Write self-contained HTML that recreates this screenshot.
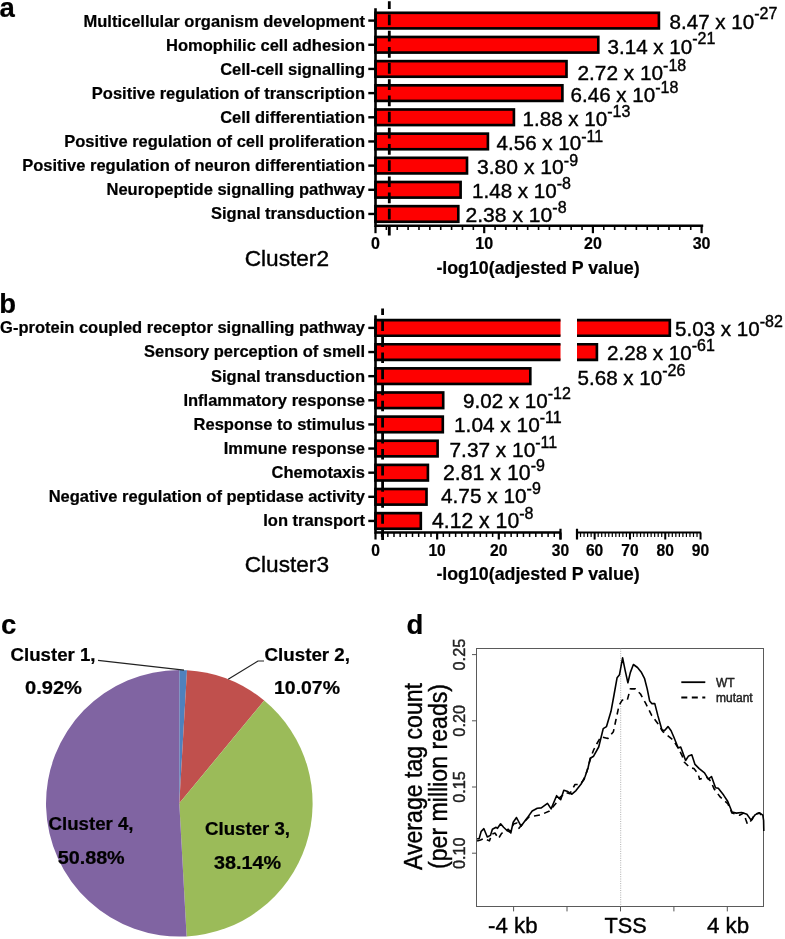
<!DOCTYPE html>
<html><head><meta charset="utf-8"><title>Figure</title>
<style>html,body{margin:0;padding:0;background:#fff}svg{display:block;filter:blur(0.7px)}text{stroke:#000;stroke-width:0.4px;paint-order:stroke}text[font-weight=bold]{stroke-width:0.22px}</style></head>
<body>
<svg width="785" height="939" viewBox="0 0 785 939" font-family='"Liberation Sans", sans-serif' fill="#000">
<rect width="785" height="939" fill="#fff"/>
<text x="-0.5" y="16.5" font-size="27.5" font-weight="bold" text-anchor="start" >a</text>
<rect x="375.5" y="12.80" width="283.4" height="15.6" fill="#fe0000" stroke="#000" stroke-width="2.65"/>
<line x1="368.3" x2="375.5" y1="20.60" y2="20.60" stroke="#000" stroke-width="2.4"/>
<text x="365" y="26.70" font-size="16.5" font-weight="bold" text-anchor="end" >Multicellular organism development</text>
<rect x="375.5" y="36.97" width="222.8" height="15.6" fill="#fe0000" stroke="#000" stroke-width="2.65"/>
<line x1="368.3" x2="375.5" y1="44.77" y2="44.77" stroke="#000" stroke-width="2.4"/>
<text x="365" y="50.75" font-size="16.5" font-weight="bold" text-anchor="end" >Homophilic cell adhesion</text>
<rect x="375.5" y="61.14" width="191.0" height="15.6" fill="#fe0000" stroke="#000" stroke-width="2.65"/>
<line x1="368.3" x2="375.5" y1="68.94" y2="68.94" stroke="#000" stroke-width="2.4"/>
<text x="365" y="74.80" font-size="16.5" font-weight="bold" text-anchor="end" >Cell-cell signalling</text>
<rect x="375.5" y="85.31" width="186.9" height="15.6" fill="#fe0000" stroke="#000" stroke-width="2.65"/>
<line x1="368.3" x2="375.5" y1="93.11" y2="93.11" stroke="#000" stroke-width="2.4"/>
<text x="365" y="98.85" font-size="16.5" font-weight="bold" text-anchor="end" >Positive regulation of transcription</text>
<rect x="375.5" y="109.48" width="138.4" height="15.6" fill="#fe0000" stroke="#000" stroke-width="2.65"/>
<line x1="368.3" x2="375.5" y1="117.28" y2="117.28" stroke="#000" stroke-width="2.4"/>
<text x="365" y="122.90" font-size="16.5" font-weight="bold" text-anchor="end" >Cell differentiation</text>
<rect x="375.5" y="133.65" width="112.4" height="15.6" fill="#fe0000" stroke="#000" stroke-width="2.65"/>
<line x1="368.3" x2="375.5" y1="141.45" y2="141.45" stroke="#000" stroke-width="2.4"/>
<text x="365" y="146.95" font-size="16.5" font-weight="bold" text-anchor="end" >Positive regulation of cell proliferation</text>
<rect x="375.5" y="157.82" width="91.5" height="15.6" fill="#fe0000" stroke="#000" stroke-width="2.65"/>
<line x1="368.3" x2="375.5" y1="165.62" y2="165.62" stroke="#000" stroke-width="2.4"/>
<text x="365" y="171.00" font-size="16.5" font-weight="bold" text-anchor="end" >Positive regulation of neuron differentiation</text>
<rect x="375.5" y="181.99" width="85.1" height="15.6" fill="#fe0000" stroke="#000" stroke-width="2.65"/>
<line x1="368.3" x2="375.5" y1="189.79" y2="189.79" stroke="#000" stroke-width="2.4"/>
<text x="365" y="195.05" font-size="16.5" font-weight="bold" text-anchor="end" >Neuropeptide signalling pathway</text>
<rect x="375.5" y="206.16" width="82.8" height="15.6" fill="#fe0000" stroke="#000" stroke-width="2.65"/>
<line x1="368.3" x2="375.5" y1="213.96" y2="213.96" stroke="#000" stroke-width="2.4"/>
<text x="365" y="219.10" font-size="16.5" font-weight="bold" text-anchor="end" >Signal transduction</text>
<text x="669.5" y="29" font-size="20.6">8.47 x 10<tspan dy="-9.6" font-size="16">-27</tspan></text>
<text x="607.5" y="53.5" font-size="20.6">3.14 x 10<tspan dy="-9.2" font-size="16">-21</tspan></text>
<text x="577.5" y="79.5" font-size="20.8">2.72 x 10<tspan dy="-9" font-size="16">-18</tspan></text>
<text x="570.5" y="102" font-size="20.6">6.46 x 10<tspan dy="-9" font-size="16">-18</tspan></text>
<text x="522.5" y="126" font-size="20.6">1.88 x 10<tspan dy="-9" font-size="16">-13</tspan></text>
<text x="496.5" y="149.5" font-size="20.6">4.56 x 10<tspan dy="-8" font-size="16">-11</tspan></text>
<text x="477" y="174" font-size="21.1">3.80 x 10<tspan dy="-8.4" font-size="16">-9</tspan></text>
<text x="472" y="197.5" font-size="20.6">1.48 x 10<tspan dy="-9" font-size="16">-8</tspan></text>
<text x="465.5" y="221.5" font-size="21.1">2.38 x 10<tspan dy="-8.8" font-size="16">-8</tspan></text>
<path d="M375.5 8.2 V225.7 H703.2" fill="none" stroke="#000" stroke-width="2.6"/>
<line x1="375.50" x2="375.50" y1="225.7" y2="233.2" stroke="#000" stroke-width="2.2"/>
<line x1="386.37" x2="386.37" y1="225.7" y2="230" stroke="#000" stroke-width="1.6"/>
<line x1="397.24" x2="397.24" y1="225.7" y2="230" stroke="#000" stroke-width="1.6"/>
<line x1="408.11" x2="408.11" y1="225.7" y2="230" stroke="#000" stroke-width="1.6"/>
<line x1="418.98" x2="418.98" y1="225.7" y2="230" stroke="#000" stroke-width="1.6"/>
<line x1="429.85" x2="429.85" y1="225.7" y2="230" stroke="#000" stroke-width="1.6"/>
<line x1="440.72" x2="440.72" y1="225.7" y2="230" stroke="#000" stroke-width="1.6"/>
<line x1="451.59" x2="451.59" y1="225.7" y2="230" stroke="#000" stroke-width="1.6"/>
<line x1="462.46" x2="462.46" y1="225.7" y2="230" stroke="#000" stroke-width="1.6"/>
<line x1="473.33" x2="473.33" y1="225.7" y2="230" stroke="#000" stroke-width="1.6"/>
<line x1="484.20" x2="484.20" y1="225.7" y2="233.2" stroke="#000" stroke-width="2.2"/>
<line x1="495.07" x2="495.07" y1="225.7" y2="230" stroke="#000" stroke-width="1.6"/>
<line x1="505.94" x2="505.94" y1="225.7" y2="230" stroke="#000" stroke-width="1.6"/>
<line x1="516.81" x2="516.81" y1="225.7" y2="230" stroke="#000" stroke-width="1.6"/>
<line x1="527.68" x2="527.68" y1="225.7" y2="230" stroke="#000" stroke-width="1.6"/>
<line x1="538.55" x2="538.55" y1="225.7" y2="230" stroke="#000" stroke-width="1.6"/>
<line x1="549.42" x2="549.42" y1="225.7" y2="230" stroke="#000" stroke-width="1.6"/>
<line x1="560.29" x2="560.29" y1="225.7" y2="230" stroke="#000" stroke-width="1.6"/>
<line x1="571.16" x2="571.16" y1="225.7" y2="230" stroke="#000" stroke-width="1.6"/>
<line x1="582.03" x2="582.03" y1="225.7" y2="230" stroke="#000" stroke-width="1.6"/>
<line x1="592.90" x2="592.90" y1="225.7" y2="233.2" stroke="#000" stroke-width="2.2"/>
<line x1="603.77" x2="603.77" y1="225.7" y2="230" stroke="#000" stroke-width="1.6"/>
<line x1="614.64" x2="614.64" y1="225.7" y2="230" stroke="#000" stroke-width="1.6"/>
<line x1="625.51" x2="625.51" y1="225.7" y2="230" stroke="#000" stroke-width="1.6"/>
<line x1="636.38" x2="636.38" y1="225.7" y2="230" stroke="#000" stroke-width="1.6"/>
<line x1="647.25" x2="647.25" y1="225.7" y2="230" stroke="#000" stroke-width="1.6"/>
<line x1="658.12" x2="658.12" y1="225.7" y2="230" stroke="#000" stroke-width="1.6"/>
<line x1="668.99" x2="668.99" y1="225.7" y2="230" stroke="#000" stroke-width="1.6"/>
<line x1="679.86" x2="679.86" y1="225.7" y2="230" stroke="#000" stroke-width="1.6"/>
<line x1="690.73" x2="690.73" y1="225.7" y2="230" stroke="#000" stroke-width="1.6"/>
<line x1="701.60" x2="701.60" y1="225.7" y2="233.2" stroke="#000" stroke-width="2.2"/>
<text x="375.5" y="248.8" font-size="16" font-weight="bold" text-anchor="middle" >0</text>
<text x="484.2" y="248.8" font-size="16" font-weight="bold" text-anchor="middle" >10</text>
<text x="592.9" y="248.8" font-size="16" font-weight="bold" text-anchor="middle" >20</text>
<text x="701.6" y="248.8" font-size="16" font-weight="bold" text-anchor="middle" >30</text>
<line x1="389.3" x2="389.3" y1="1.3" y2="236.2" stroke="#000" stroke-width="2.8" stroke-dasharray="10.7 5.48" stroke-dashoffset="2.9"/>
<text x="538" y="274" font-size="17.8" font-weight="bold" text-anchor="middle" >-log10(adjested P value)</text>
<text x="244.7" y="266.4" font-size="22.5" font-weight="normal" text-anchor="start" textLength="84.3" lengthAdjust="spacingAndGlyphs" >Cluster2</text>
<text x="-0.8" y="312.8" font-size="27.5" font-weight="bold" text-anchor="start" >b</text>
<rect x="375.5" y="320.10" width="185.0" height="15.6" fill="#fe0000"/>
<path d="M560.5 320.10 H375.5 V335.70 H560.5" fill="none" stroke="#000" stroke-width="2.65"/>
<rect x="577" y="320.10" width="92.8" height="15.6" fill="#fe0000"/>
<path d="M577 320.10 H669.8 V335.70 H577" fill="none" stroke="#000" stroke-width="2.65"/>
<line x1="368.3" x2="375.5" y1="327.90" y2="327.90" stroke="#000" stroke-width="2.4"/>
<text x="365" y="333.40" font-size="16.5" font-weight="bold" text-anchor="end" >G-protein coupled receptor signalling pathway</text>
<rect x="375.5" y="344.23" width="185.0" height="15.6" fill="#fe0000"/>
<path d="M560.5 344.23 H375.5 V359.83 H560.5" fill="none" stroke="#000" stroke-width="2.65"/>
<rect x="577" y="344.23" width="19.9" height="15.6" fill="#fe0000"/>
<path d="M577 344.23 H596.9 V359.83 H577" fill="none" stroke="#000" stroke-width="2.65"/>
<line x1="368.3" x2="375.5" y1="352.03" y2="352.03" stroke="#000" stroke-width="2.4"/>
<text x="365" y="357.45" font-size="16.5" font-weight="bold" text-anchor="end" >Sensory perception of smell</text>
<rect x="375.5" y="368.36" width="154.8" height="15.6" fill="#fe0000" stroke="#000" stroke-width="2.65"/>
<line x1="368.3" x2="375.5" y1="376.16" y2="376.16" stroke="#000" stroke-width="2.4"/>
<text x="365" y="381.50" font-size="16.5" font-weight="bold" text-anchor="end" >Signal transduction</text>
<rect x="375.5" y="392.49" width="67.7" height="15.6" fill="#fe0000" stroke="#000" stroke-width="2.65"/>
<line x1="368.3" x2="375.5" y1="400.29" y2="400.29" stroke="#000" stroke-width="2.4"/>
<text x="365" y="405.55" font-size="16.5" font-weight="bold" text-anchor="end" >Inflammatory response</text>
<rect x="375.5" y="416.62" width="67.3" height="15.6" fill="#fe0000" stroke="#000" stroke-width="2.65"/>
<line x1="368.3" x2="375.5" y1="424.42" y2="424.42" stroke="#000" stroke-width="2.4"/>
<text x="365" y="429.60" font-size="16.5" font-weight="bold" text-anchor="end" >Response to stimulus</text>
<rect x="375.5" y="440.75" width="62.1" height="15.6" fill="#fe0000" stroke="#000" stroke-width="2.65"/>
<line x1="368.3" x2="375.5" y1="448.55" y2="448.55" stroke="#000" stroke-width="2.4"/>
<text x="365" y="453.65" font-size="16.5" font-weight="bold" text-anchor="end" >Immune response</text>
<rect x="375.5" y="464.88" width="52.4" height="15.6" fill="#fe0000" stroke="#000" stroke-width="2.65"/>
<line x1="368.3" x2="375.5" y1="472.68" y2="472.68" stroke="#000" stroke-width="2.4"/>
<text x="365" y="477.70" font-size="16.5" font-weight="bold" text-anchor="end" >Chemotaxis</text>
<rect x="375.5" y="489.01" width="51.0" height="15.6" fill="#fe0000" stroke="#000" stroke-width="2.65"/>
<line x1="368.3" x2="375.5" y1="496.81" y2="496.81" stroke="#000" stroke-width="2.4"/>
<text x="365" y="501.75" font-size="16.5" font-weight="bold" text-anchor="end" >Negative regulation of peptidase activity</text>
<rect x="375.5" y="513.14" width="45.3" height="15.6" fill="#fe0000" stroke="#000" stroke-width="2.65"/>
<line x1="368.3" x2="375.5" y1="520.94" y2="520.94" stroke="#000" stroke-width="2.4"/>
<text x="365" y="525.80" font-size="16.5" font-weight="bold" text-anchor="end" >Ion transport</text>
<text x="675" y="335.5" font-size="20.6">5.03 x 10<tspan dy="-8.8" font-size="16">-82</tspan></text>
<text x="607" y="359.5" font-size="20.6">2.28 x 10<tspan dy="-8.8" font-size="16">-61</tspan></text>
<text x="577.5" y="384.7" font-size="20.6">5.68 x 10<tspan dy="-8.8" font-size="16">-26</tspan></text>
<text x="463" y="408" font-size="20.6">9.02 x 10<tspan dy="-8.8" font-size="16">-12</tspan></text>
<text x="454" y="432" font-size="20.85">1.04 x 10<tspan dy="-8.8" font-size="16">-11</tspan></text>
<text x="449.5" y="456.5" font-size="20.85">7.37 x 10<tspan dy="-8.8" font-size="16">-11</tspan></text>
<text x="443" y="480" font-size="21.3">2.81 x 10<tspan dy="-8.8" font-size="16">-9</tspan></text>
<text x="441" y="503" font-size="20.8">4.75 x 10<tspan dy="-8.8" font-size="16">-9</tspan></text>
<text x="432" y="527.5" font-size="21.2">4.12 x 10<tspan dy="-8.8" font-size="16">-8</tspan></text>
<path d="M375.5 315.3 V532.5 H560.5" fill="none" stroke="#000" stroke-width="2.6"/>
<path d="M560.5 528.7 V539.5 M577 528.7 V539.5 M577 532.5 H701" fill="none" stroke="#000" stroke-width="2.2"/>
<line x1="375.50" x2="375.50" y1="532.5" y2="539.5" stroke="#000" stroke-width="2.2"/>
<line x1="381.67" x2="381.67" y1="532.5" y2="537" stroke="#000" stroke-width="1.5"/>
<line x1="387.83" x2="387.83" y1="532.5" y2="537" stroke="#000" stroke-width="1.5"/>
<line x1="394.00" x2="394.00" y1="532.5" y2="537" stroke="#000" stroke-width="1.5"/>
<line x1="400.16" x2="400.16" y1="532.5" y2="537" stroke="#000" stroke-width="1.5"/>
<line x1="406.32" x2="406.32" y1="532.5" y2="537" stroke="#000" stroke-width="1.5"/>
<line x1="412.49" x2="412.49" y1="532.5" y2="537" stroke="#000" stroke-width="1.5"/>
<line x1="418.65" x2="418.65" y1="532.5" y2="537" stroke="#000" stroke-width="1.5"/>
<line x1="424.82" x2="424.82" y1="532.5" y2="537" stroke="#000" stroke-width="1.5"/>
<line x1="430.99" x2="430.99" y1="532.5" y2="537" stroke="#000" stroke-width="1.5"/>
<line x1="437.15" x2="437.15" y1="532.5" y2="539.5" stroke="#000" stroke-width="2.2"/>
<line x1="443.31" x2="443.31" y1="532.5" y2="537" stroke="#000" stroke-width="1.5"/>
<line x1="449.48" x2="449.48" y1="532.5" y2="537" stroke="#000" stroke-width="1.5"/>
<line x1="455.64" x2="455.64" y1="532.5" y2="537" stroke="#000" stroke-width="1.5"/>
<line x1="461.81" x2="461.81" y1="532.5" y2="537" stroke="#000" stroke-width="1.5"/>
<line x1="467.98" x2="467.98" y1="532.5" y2="537" stroke="#000" stroke-width="1.5"/>
<line x1="474.14" x2="474.14" y1="532.5" y2="537" stroke="#000" stroke-width="1.5"/>
<line x1="480.31" x2="480.31" y1="532.5" y2="537" stroke="#000" stroke-width="1.5"/>
<line x1="486.47" x2="486.47" y1="532.5" y2="537" stroke="#000" stroke-width="1.5"/>
<line x1="492.63" x2="492.63" y1="532.5" y2="537" stroke="#000" stroke-width="1.5"/>
<line x1="498.80" x2="498.80" y1="532.5" y2="539.5" stroke="#000" stroke-width="2.2"/>
<line x1="504.97" x2="504.97" y1="532.5" y2="537" stroke="#000" stroke-width="1.5"/>
<line x1="511.13" x2="511.13" y1="532.5" y2="537" stroke="#000" stroke-width="1.5"/>
<line x1="517.29" x2="517.29" y1="532.5" y2="537" stroke="#000" stroke-width="1.5"/>
<line x1="523.46" x2="523.46" y1="532.5" y2="537" stroke="#000" stroke-width="1.5"/>
<line x1="529.62" x2="529.62" y1="532.5" y2="537" stroke="#000" stroke-width="1.5"/>
<line x1="535.79" x2="535.79" y1="532.5" y2="537" stroke="#000" stroke-width="1.5"/>
<line x1="541.96" x2="541.96" y1="532.5" y2="537" stroke="#000" stroke-width="1.5"/>
<line x1="548.12" x2="548.12" y1="532.5" y2="537" stroke="#000" stroke-width="1.5"/>
<line x1="554.28" x2="554.28" y1="532.5" y2="537" stroke="#000" stroke-width="1.5"/>
<line x1="560.45" x2="560.45" y1="532.5" y2="539.5" stroke="#000" stroke-width="2.2"/>
<line x1="577.00" x2="577.00" y1="532.5" y2="537" stroke="#000" stroke-width="1.2"/>
<line x1="580.53" x2="580.53" y1="532.5" y2="537" stroke="#000" stroke-width="1.2"/>
<line x1="584.06" x2="584.06" y1="532.5" y2="537" stroke="#000" stroke-width="1.2"/>
<line x1="587.59" x2="587.59" y1="532.5" y2="537" stroke="#000" stroke-width="1.2"/>
<line x1="591.12" x2="591.12" y1="532.5" y2="537" stroke="#000" stroke-width="1.2"/>
<line x1="594.65" x2="594.65" y1="532.5" y2="539.5" stroke="#000" stroke-width="2.0"/>
<line x1="598.18" x2="598.18" y1="532.5" y2="537" stroke="#000" stroke-width="1.2"/>
<line x1="601.71" x2="601.71" y1="532.5" y2="537" stroke="#000" stroke-width="1.2"/>
<line x1="605.24" x2="605.24" y1="532.5" y2="537" stroke="#000" stroke-width="1.2"/>
<line x1="608.77" x2="608.77" y1="532.5" y2="537" stroke="#000" stroke-width="1.2"/>
<line x1="612.30" x2="612.30" y1="532.5" y2="537" stroke="#000" stroke-width="1.2"/>
<line x1="615.83" x2="615.83" y1="532.5" y2="537" stroke="#000" stroke-width="1.2"/>
<line x1="619.36" x2="619.36" y1="532.5" y2="537" stroke="#000" stroke-width="1.2"/>
<line x1="622.89" x2="622.89" y1="532.5" y2="537" stroke="#000" stroke-width="1.2"/>
<line x1="626.42" x2="626.42" y1="532.5" y2="537" stroke="#000" stroke-width="1.2"/>
<line x1="629.95" x2="629.95" y1="532.5" y2="539.5" stroke="#000" stroke-width="2.0"/>
<line x1="633.48" x2="633.48" y1="532.5" y2="537" stroke="#000" stroke-width="1.2"/>
<line x1="637.01" x2="637.01" y1="532.5" y2="537" stroke="#000" stroke-width="1.2"/>
<line x1="640.54" x2="640.54" y1="532.5" y2="537" stroke="#000" stroke-width="1.2"/>
<line x1="644.07" x2="644.07" y1="532.5" y2="537" stroke="#000" stroke-width="1.2"/>
<line x1="647.60" x2="647.60" y1="532.5" y2="537" stroke="#000" stroke-width="1.2"/>
<line x1="651.13" x2="651.13" y1="532.5" y2="537" stroke="#000" stroke-width="1.2"/>
<line x1="654.66" x2="654.66" y1="532.5" y2="537" stroke="#000" stroke-width="1.2"/>
<line x1="658.19" x2="658.19" y1="532.5" y2="537" stroke="#000" stroke-width="1.2"/>
<line x1="661.72" x2="661.72" y1="532.5" y2="537" stroke="#000" stroke-width="1.2"/>
<line x1="665.25" x2="665.25" y1="532.5" y2="539.5" stroke="#000" stroke-width="2.0"/>
<line x1="668.78" x2="668.78" y1="532.5" y2="537" stroke="#000" stroke-width="1.2"/>
<line x1="672.31" x2="672.31" y1="532.5" y2="537" stroke="#000" stroke-width="1.2"/>
<line x1="675.84" x2="675.84" y1="532.5" y2="537" stroke="#000" stroke-width="1.2"/>
<line x1="679.37" x2="679.37" y1="532.5" y2="537" stroke="#000" stroke-width="1.2"/>
<line x1="682.90" x2="682.90" y1="532.5" y2="537" stroke="#000" stroke-width="1.2"/>
<line x1="686.43" x2="686.43" y1="532.5" y2="537" stroke="#000" stroke-width="1.2"/>
<line x1="689.96" x2="689.96" y1="532.5" y2="537" stroke="#000" stroke-width="1.2"/>
<line x1="693.49" x2="693.49" y1="532.5" y2="537" stroke="#000" stroke-width="1.2"/>
<line x1="697.02" x2="697.02" y1="532.5" y2="537" stroke="#000" stroke-width="1.2"/>
<line x1="700.55" x2="700.55" y1="532.5" y2="539.5" stroke="#000" stroke-width="2.0"/>
<text x="375.5" y="555.8" font-size="15.6" font-weight="bold" text-anchor="middle" >0</text>
<text x="437.1" y="555.8" font-size="15.6" font-weight="bold" text-anchor="middle" >10</text>
<text x="498.8" y="555.8" font-size="15.6" font-weight="bold" text-anchor="middle" >20</text>
<text x="560.5" y="555.8" font-size="15.6" font-weight="bold" text-anchor="middle" >30</text>
<text x="594.6" y="555.8" font-size="15.6" font-weight="bold" text-anchor="middle" >60</text>
<text x="630.0" y="555.8" font-size="15.6" font-weight="bold" text-anchor="middle" >70</text>
<text x="665.2" y="555.8" font-size="15.6" font-weight="bold" text-anchor="middle" >80</text>
<text x="700.5" y="555.8" font-size="15.6" font-weight="bold" text-anchor="middle" >90</text>
<line x1="382.6" x2="382.6" y1="308.5" y2="542.8" stroke="#000" stroke-width="2.8" stroke-dasharray="10.6 5.47" stroke-dashoffset="4.2"/>
<text x="538" y="580" font-size="17.8" font-weight="bold" text-anchor="middle" >-log10(adjested P value)</text>
<text x="244.7" y="571.6" font-size="22.5" font-weight="normal" text-anchor="start" textLength="84.3" lengthAdjust="spacingAndGlyphs" >Cluster3</text>
<text x="1" y="634" font-size="27.5" font-weight="bold" text-anchor="start" >c</text>
<path d="M179.3 803.3 L179.30 670.00 A133.3 133.3 0 0 1 187.00 670.22 Z" fill="#4f81bd"/>
<path d="M179.3 803.3 L187.00 670.22 A133.3 133.3 0 0 1 264.20 700.53 Z" fill="#c0504d"/>
<path d="M179.3 803.3 L264.20 700.53 A133.3 133.3 0 0 1 186.62 936.40 Z" fill="#9bbb59"/>
<path d="M179.3 803.3 L186.62 936.40 A133.3 133.3 0 1 1 179.30 670.00 Z" fill="#8064a2"/>
<path d="M98 660.3 L184 670.2" stroke="#222" stroke-width="1.2" fill="none"/>
<path d="M264 661 L258 661 L228.2 679.3" stroke="#222" stroke-width="1.2" fill="none"/>
<text x="10.5" y="660.8" font-size="18" font-weight="bold" text-anchor="start" textLength="85" lengthAdjust="spacingAndGlyphs" >Cluster 1,</text>
<text x="25" y="694" font-size="18" font-weight="bold" text-anchor="start" textLength="57" lengthAdjust="spacingAndGlyphs" >0.92%</text>
<text x="264.5" y="660.8" font-size="18" font-weight="bold" text-anchor="start" textLength="85.5" lengthAdjust="spacingAndGlyphs" >Cluster 2,</text>
<text x="274" y="694" font-size="18" font-weight="bold" text-anchor="start" textLength="66" lengthAdjust="spacingAndGlyphs" >10.07%</text>
<text x="48.5" y="829.7" font-size="18" font-weight="bold" text-anchor="start" textLength="85" lengthAdjust="spacingAndGlyphs" >Cluster 4,</text>
<text x="57.7" y="863.6" font-size="18" font-weight="bold" text-anchor="start" textLength="67" lengthAdjust="spacingAndGlyphs" >50.88%</text>
<text x="205" y="834.5" font-size="18" font-weight="bold" text-anchor="start" textLength="85" lengthAdjust="spacingAndGlyphs" >Cluster 3,</text>
<text x="214" y="868.5" font-size="18" font-weight="bold" text-anchor="start" textLength="67" lengthAdjust="spacingAndGlyphs" >38.14%</text>
<text x="406.5" y="633.8" font-size="27.5" font-weight="bold" text-anchor="start" >d</text>
<rect x="476.5" y="648.5" width="287.0" height="258.0" fill="none" stroke="#5a5a5a" stroke-width="1"/>
<line x1="620.7" x2="620.7" y1="648.5" y2="906.5" stroke="#999" stroke-width="0.8" stroke-dasharray="1 1.3"/>
<line x1="472" x2="476.5" y1="654.6" y2="654.6" stroke="#555" stroke-width="1"/>
<text transform="translate(464.6 654.6) rotate(-90)" font-size="16.3" text-anchor="middle" fill="#222" stroke="none">0.25</text>
<line x1="472" x2="476.5" y1="720.8" y2="720.8" stroke="#555" stroke-width="1"/>
<text transform="translate(464.6 720.8) rotate(-90)" font-size="16.3" text-anchor="middle" fill="#222" stroke="none">0.20</text>
<line x1="472" x2="476.5" y1="787" y2="787" stroke="#555" stroke-width="1"/>
<text transform="translate(464.6 787) rotate(-90)" font-size="16.3" text-anchor="middle" fill="#222" stroke="none">0.15</text>
<line x1="472" x2="476.5" y1="853.2" y2="853.2" stroke="#555" stroke-width="1"/>
<text transform="translate(464.6 853.2) rotate(-90)" font-size="16.3" text-anchor="middle" fill="#222" stroke="none">0.10</text>
<line x1="513.6" x2="513.6" y1="906.5" y2="911.4" stroke="#555" stroke-width="1"/>
<line x1="567.0" x2="567.0" y1="906.5" y2="911.4" stroke="#555" stroke-width="1"/>
<line x1="620.5" x2="620.5" y1="906.5" y2="911.4" stroke="#555" stroke-width="1"/>
<line x1="673.9" x2="673.9" y1="906.5" y2="911.4" stroke="#555" stroke-width="1"/>
<line x1="727.3" x2="727.3" y1="906.5" y2="911.4" stroke="#555" stroke-width="1"/>
<text transform="translate(422.3 776.5) rotate(-90)" font-size="25" text-anchor="middle" textLength="187" lengthAdjust="spacingAndGlyphs">Average tag count</text>
<text transform="translate(447 776.5) rotate(-90)" font-size="25" text-anchor="middle" textLength="185" lengthAdjust="spacingAndGlyphs">(per million reads)</text>
<text x="488.1" y="932.5" font-size="22" font-weight="normal" text-anchor="start" textLength="49.5" lengthAdjust="spacingAndGlyphs" >-4 kb</text>
<text x="604.5" y="932.5" font-size="22" font-weight="normal" text-anchor="start" textLength="42.2" lengthAdjust="spacingAndGlyphs" >TSS</text>
<text x="706.9" y="932.5" font-size="22" font-weight="normal" text-anchor="start" textLength="42.2" lengthAdjust="spacingAndGlyphs" >4 kb</text>
<polyline fill="none" stroke="#000" stroke-width="1.6" stroke-linejoin="round" points="477.1,839.1 479.2,838.5 481.2,831.3 483.9,828.7 487.3,837 490.4,835.4 492.4,829.3 496.1,827.3 497.5,828.3 500.6,823.8 503.6,827.3 506.7,830.3 508.3,829.3 510.8,833 513.2,822.2 516.5,817.5 521,826.2 527.1,818.1 532.2,811 537.3,808.3 541.3,807.9 547.5,803.4 551.1,808.9 556.6,795.7 560.7,799.7 563.8,790.2 567.8,791.6 571.9,794.2 576,790.6 581.1,784 585.2,776.3 588,768 590.2,758.2 593.6,756.2 598.7,747 603.2,728.7 606.5,726.6 611,711.3 614,695 617.1,677.7 619.5,674.7 622.6,657.9 625.2,670.6 627.9,682.8 630.3,672.6 633.4,664.5 637.5,667.5 641.5,672.6 644.6,678.7 647.2,688.9 649.7,701.1 651.7,703.6 654.8,703.6 657.8,715.4 661.9,729.7 664.4,730.7 668,726.6 671.1,730.7 674.1,737.8 678.2,748 680.7,747 683.3,754.1 685.6,760.5 688.6,755.9 691.8,754.8 695,764.4 699.2,768.6 704.5,772.8 708.3,779.2 711.5,776.5 715.5,787.7 718.3,788.3 723.6,795.1 727.8,801.5 732,812 736.3,813.1 741.6,812.5 746.9,814.2 751.1,820.1 755.4,814.6 759.2,812.7 762.8,815.2 763.6,820.5 763.8,831"/>
<polyline fill="none" stroke="#000" stroke-width="1.6" stroke-dasharray="6 4.5" stroke-linejoin="round" points="477.1,841 480.5,840 484.3,838.5 489.4,840.9 492,834 495,833 498.5,838.5 501.6,833.4 506.7,830.5 510,832 513.5,824 517,823 519,828.3 525,821 529,817 534.2,816 540.3,815 549.5,811 555.6,803.8 559.7,797.7 565.8,792.6 569.9,793.6 575,784.5 580,784.5 584.1,779.4 587,771 590.6,758.2 593.6,750 596.7,744 600.8,736.8 607.9,738.5 613.4,731.7 616,719.5 619.1,705.2 622.2,700.1 627.3,700.1 630.3,688.9 635.4,688.9 640.5,694 645.6,703.2 651.7,715.4 657.8,723.6 662.9,731.7 668,735.8 673.1,739.9 678.2,748 682.3,756.2 684.4,762.2 689.7,767.5 693.9,768.6 698.1,773.9 699.6,779.2 706.6,777.1 710.9,781.3 714,788.7 717.2,793 720.4,797.2 727.8,803.6 732,813.1 739.5,815.2 743.7,813.1 745.8,819.5 747.5,824.3 752.2,819.5 754.3,814.2 759.6,813.1 763.6,817.4"/>
<line x1="681.3" x2="705.3" y1="682.2" y2="682.2" stroke="#000" stroke-width="1.8"/>
<line x1="681.3" x2="705.3" y1="697.5" y2="697.5" stroke="#000" stroke-width="1.8" stroke-dasharray="6 4.5"/>
<text x="716" y="686.6" font-size="12" font-weight="normal" text-anchor="start" fill="#222" stroke-width="0.25">WT</text>
<text x="716" y="701.8" font-size="12" font-weight="normal" text-anchor="start" fill="#222" stroke-width="0.25">mutant</text>
</svg>
</body></html>
